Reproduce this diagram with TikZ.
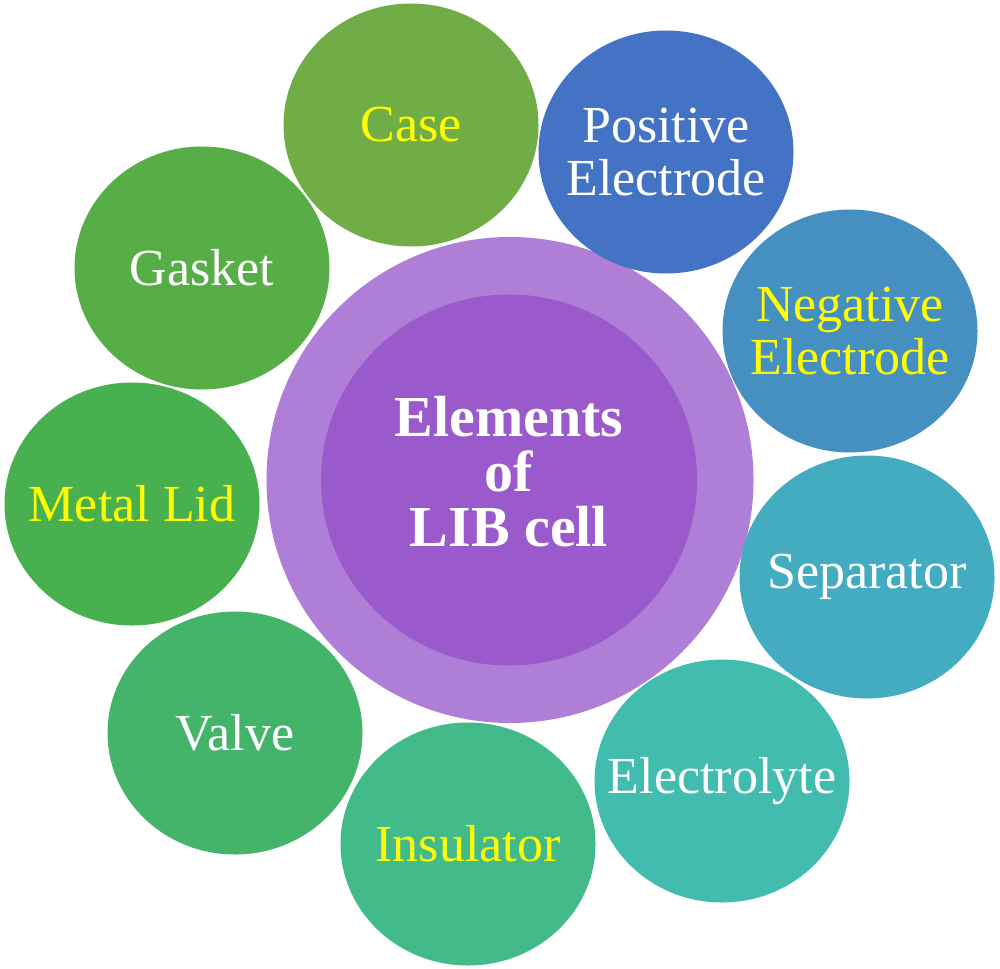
\documentclass[tikz,border=0pt]{standalone}
\usepackage{fontspec}
\setmainfont{Liberation Serif}
\usetikzlibrary{shapes.geometric}

\definecolor{ringpurple}{HTML}{AF7ED7}
\definecolor{corepurple}{HTML}{9A5ACB}
\definecolor{casegreen}{HTML}{70AD47}
\definecolor{posblue}{HTML}{4472C4}
\definecolor{negblue}{HTML}{4590C1}
\definecolor{septeal}{HTML}{43ACC1}
\definecolor{eltteal}{HTML}{42BCAE}
\definecolor{insgreen}{HTML}{43BA8A}
\definecolor{valgreen}{HTML}{45B46B}
\definecolor{lidgreen}{HTML}{48B04F}
\definecolor{gasgreen}{HTML}{57AE47}
\definecolor{hlyellow}{HTML}{FFFF00}

\begin{document}
\begin{tikzpicture}[
		x=1pt, y=-1pt
		,every node/.style={ellipse, inner sep=0pt, align=center, text=white,
			font=\fontsize{52}{53}\selectfont}
		,part/.style={minimum width=255pt, minimum height=243pt}
		,hl/.style={text=hlyellow}
	]
		\useasboundingbox (0,0) rectangle (1000,968);

		% centre
		\node[fill=ringpurple, minimum width=487pt, minimum height=486pt] (R) at (510,480) {};
		\node[fill=corepurple, minimum width=376pt, minimum height=371pt,
			label={[font=\bfseries\fontsize{58}{55}\selectfont, yshift=8pt]center:Elements\\of\\LIB cell}] (C) at (509,480) {};

		% parts around it
		\node[part, fill=casegreen, label={[hl]center:Case}] (Case) at (411,125) {};
		\node[part, fill=posblue, label={center:Positive\\Electrode}] (Pos) at (666,152) {};
		\node[part, fill=negblue, label={[hl]center:Negative\\Electrode}] (Neg) at (850,331) {};
		\node[part, fill=septeal, label={center:Separator}] (Sep) at (867,577) {};
		\node[part, fill=eltteal, label={center:Electrolyte}] (Elt) at (722,781) {};
		\node[part, fill=insgreen, label={[hl]center:Insulator}] (Ins) at (468,844) {};
		\node[part, fill=valgreen, label={center:Valve}] (Val) at (235,733) {};
		\node[part, fill=lidgreen, label={[hl]center:Metal Lid}] (Lid) at (132,504) {};
		\node[part, fill=gasgreen, label={center:Gasket}] (Gas) at (202,268) {};
	\end{tikzpicture}
\end{document}
